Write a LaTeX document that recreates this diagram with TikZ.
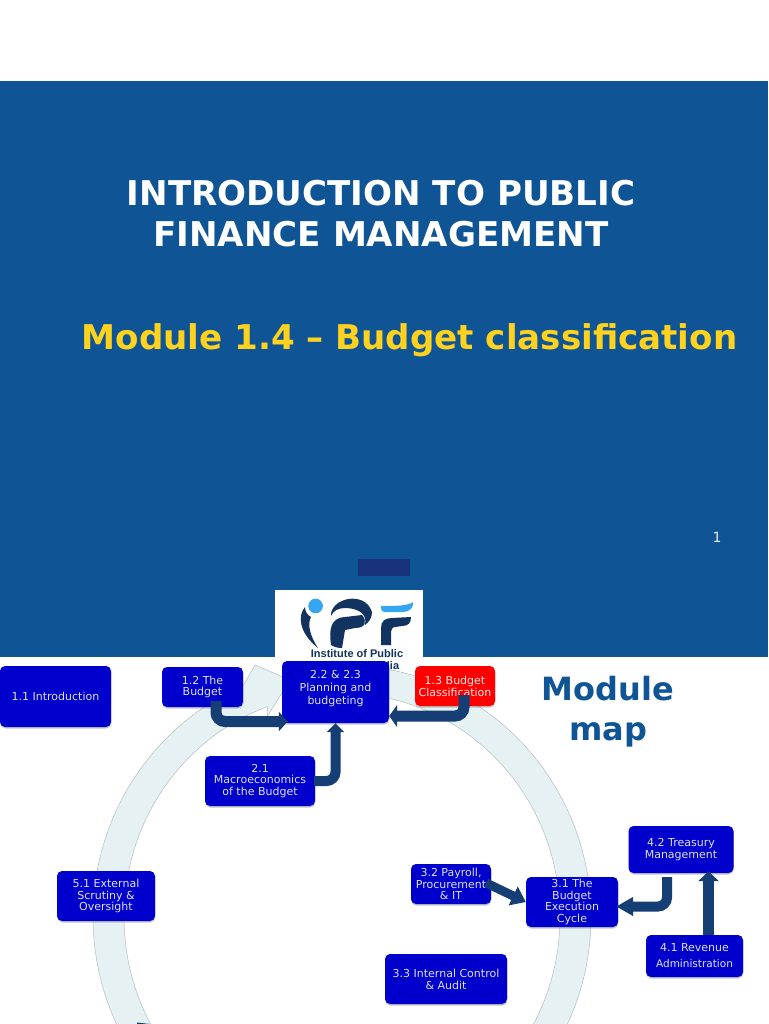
\documentclass[tikz,border=0pt]{standalone}
\usepackage{fontspec}
\setmainfont{DejaVu Sans}
\newfontfamily\logofont{Liberation Sans}
\usetikzlibrary{arrows.meta,shadows}
\definecolor{slideblue}{HTML}{0F5494}
\definecolor{tabblue}{HTML}{17317B}
\definecolor{boxblue}{HTML}{0000CC}
\definecolor{flowblue}{HTML}{153E75}
\definecolor{ringfill}{HTML}{E6F1F4}
\definecolor{ringedge}{HTML}{B4BEC0}
\definecolor{logodark}{HTML}{12335F}
\definecolor{logolight}{HTML}{35A7F2}
\definecolor{subyellow}{HTML}{FFD21F}
\tikzset{
  modbox/.style={fill=boxblue,rounded corners=5pt,text=white!88!boxblue,align=center,inner sep=0pt,
    font=\fontsize{11}{11.8}\selectfont,drop shadow={opacity=0.45,shadow xshift=0.3pt,shadow yshift=-1.5pt}},
  ringband/.style={fill=ringfill,draw=ringedge,line width=0.5pt},
  flowarrow/.style={draw=flowblue,line width=10pt,rounded corners=9pt},
}
\begin{document}
\begin{tikzpicture}[x=1pt,y=-1pt]
\clip (0,0) rectangle (768,1024);
\fill [white] (0,0) rectangle (768,1024);
\fill [slideblue] (0,81) rectangle (768,657);
\fill [tabblue] (358,559) rectangle (410,576);
\fill [white] (275,590) rectangle (423,657);
\node (titletext) at (381,213.5) [text=white,align=center,font=\fontsize{34.1}{41}\bfseries] {INTRODUCTION TO PUBLIC\\FINANCE MANAGEMENT};
\node (subtitle) at (409.5,340.5) [text=subyellow,font=\fontsize{34.1}{41}\bfseries] {Module 1.4 -- Budget classification};
\node (pagenum) at (717,537) [text=white!90!slideblue,font=\fontsize{14}{16}\selectfont] {1};
\fill [logolight] (315.6,606) circle (7.3);
\fill [logodark] (305,607) .. controls (298,615) and (298,632) .. (318,648) .. controls (310,636) and (307,624) .. (311,617) .. controls (307,615) and (305,611) .. (305,607) -- cycle;
\fill [logodark] (331,616) .. controls (330,598) and (365,590) .. (372,612) .. controls (372,618) and (369,622) .. (365,625) .. controls (368,612) and (355,608) .. (345,608) .. controls (338,608) and (333,611) .. (331,616) -- cycle;
\fill [logodark] (331,645) .. controls (329,630) and (330,618) .. (345,617) -- (362,615) .. controls (368,622) and (365,628) .. (355,628) -- (345,630) -- (342,648) .. controls (338,648) and (334,647) .. (331,645) -- cycle;
\fill [logolight] (381,606) .. controls (395,606) and (408,606) .. (413,602) .. controls (414,608) and (409,612) .. (403,612) -- (384,612) .. controls (381,612) and (381,609) .. (381,606) -- cycle;
\fill [logodark] (381,645) -- (381,628) .. controls (381,621) and (385,618) .. (392,618) -- (411,617) .. controls (411,623) and (408,626) .. (402,626) -- (395,627) .. controls (392,627) and (391,630) .. (391,634) -- (391,645) -- cycle;
\node (logotext) at (357,653.5) [text=logodark,font=\logofont\fontsize{11}{12}\bfseries] {Institute of Public};
\node (logotail) at (393,666) [text=logodark,font=\logofont\fontsize{11}{12}\bfseries] {lia};
\draw [ringband] ([shift={(342,917)}]145:249 and 252) arc (145:246.6:249 and 252) -- (255,665) -- (290,680) -- (267,717) -- ([shift={(342,917)}]250:218 and 224) arc (250:145:218 and 224) -- cycle;
\draw [ringband] ([shift={(342,917)}]275:249 and 252) arc (275:400:249 and 252) -- ([shift={(342,917)}]400:218 and 224) arc (400:275:218 and 224) -- cycle;
\fill [flowblue] (137,1022.5) -- (150,1024) -- (150,1026) -- (137,1026) -- cycle;
\node (maptext) at (608,712) [text=slideblue,align=center,font=\fontsize{32}{40}\bfseries] {Module\\map};
\node (intro) at (55.5,696.5) [modbox,minimum width=111,minimum height=61] {1.1 Introduction};
\node (budget) at (202.5,687) [modbox,minimum width=81,minimum height=40] {1.2 The\\Budget};
\node (planning) at (335.5,692) [modbox,minimum width=107,minimum height=62,font=\fontsize{11}{13}\selectfont] {2.2 \& 2.3\\Planning and\\budgeting\rule[-9.5pt]{0pt}{1pt}};
\node (macro) at (260,781) [modbox,minimum width=110,minimum height=50] {2.1\\Macroeconomics\\of the Budget};
\node (classif) at (455,686) [modbox,fill=red,text=white!90!red,minimum width=80,minimum height=40] {1.3 Budget\\Classification};
\node (payroll) at (451,884) [modbox,minimum width=80,minimum height=40] {3.2 Payroll,\\Procurement\\\& IT};
\node (execution) at (572,902) [modbox,minimum width=92,minimum height=50] {3.1 The\\Budget\\Execution\\Cycle};
\node (treasury) at (681,849.5) [modbox,minimum width=105,minimum height=47] {4.2 Treasury\\Management};
\node (revenue) at (694.5,956) [modbox,minimum width=97,minimum height=42,font=\fontsize{11}{16}\selectfont] {4.1 Revenue\\{\fontsize{10.5}{16}\selectfont Administration}};
\node (control) at (446,979) [modbox,minimum width=122,minimum height=50] {3.3 Internal Control\\\& Audit};
\node (scrutiny) at (106,896) [modbox,minimum width=98,minimum height=50] {5.1 External\\Scrutiny \&\\Oversight};
\draw [flowarrow,line width=11pt,-{Triangle[length=9pt,width=19pt]}] ([xshift=13.5pt,yshift=6pt]budget.south) |- ([xshift=6pt,yshift=-29.5pt]planning.west);
\draw [flowarrow,-{Triangle[length=9pt,width=17pt]}] ([xshift=-1pt,yshift=0pt]macro.east) -| (planning.south);
\draw [flowarrow,line width=11pt,-{Triangle[length=8pt,width=22pt]}] ([xshift=9pt,yshift=11pt]classif.south) |- ([yshift=-24pt]planning.east);
\draw [flowarrow,-{Triangle[length=17pt,width=18pt]}] ([xshift=-14pt,yshift=-4pt]treasury.south) |- ([xshift=-2pt,yshift=-4.5pt]execution.east);
\draw [flowarrow,line width=11pt,-{Triangle[length=10pt,width=20pt]}] ([xshift=14pt]revenue.north) -- ([xshift=27.5pt,yshift=2pt]treasury.south);
\draw [flowarrow,line width=9pt,-{Triangle[length=14pt,width=20pt]}] ([xshift=-5pt,yshift=1pt]payroll.east) -- (execution.west);
\end{tikzpicture}
\end{document}
